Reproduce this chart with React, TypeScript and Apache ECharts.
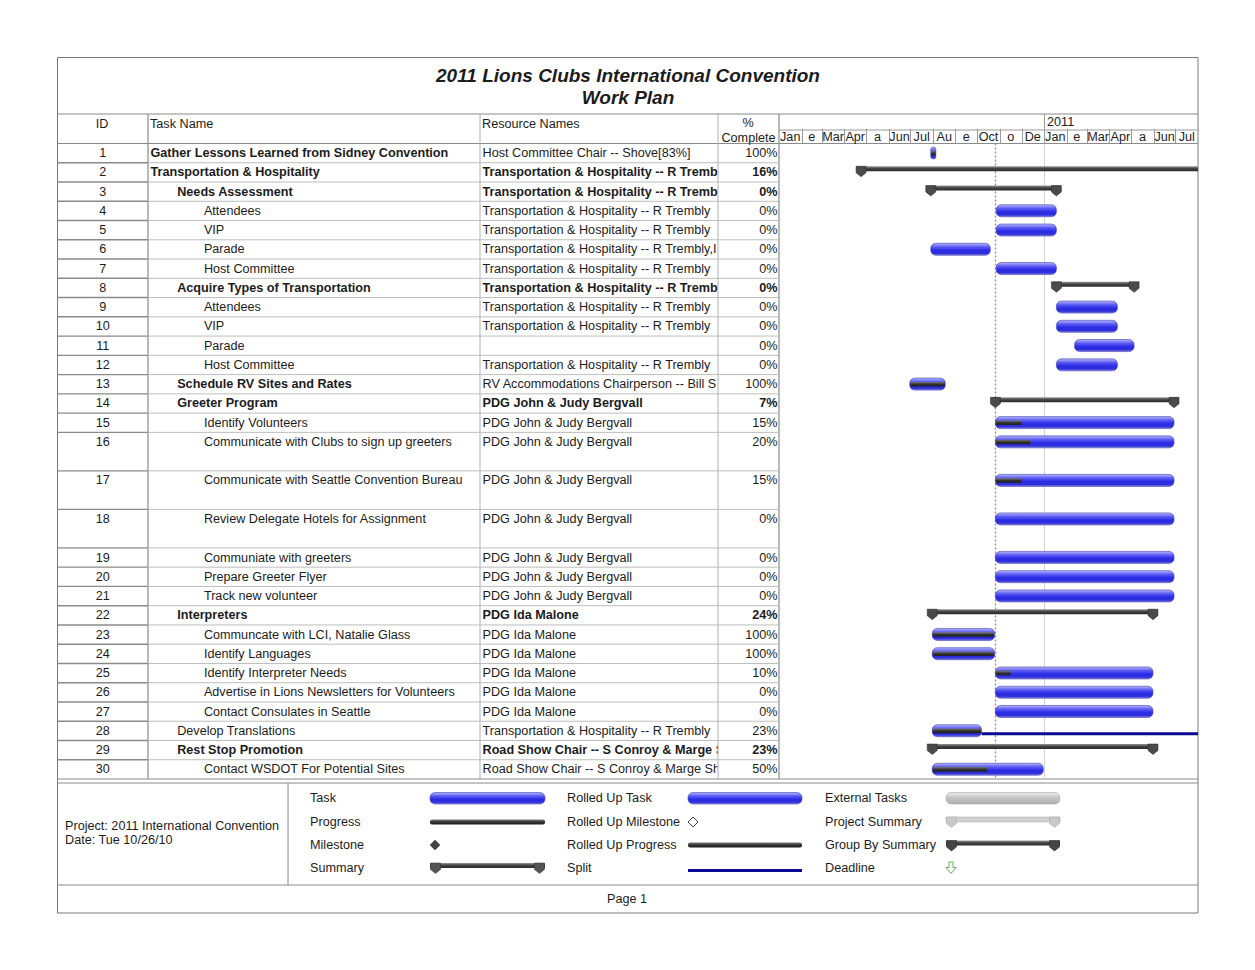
import React, { useEffect, useRef } from 'react';
import * as echarts from 'echarts';

// ---------------- data ----------------
const taskNames = [
  'Gather Lessons Learned from Sidney Convention',
  'Transportation & Hospitality',
  'Needs Assessment',
  'Attendees',
  'VIP',
  'Parade',
  'Host Committee',
  'Acquire Types of Transportation',
  'Attendees',
  'VIP',
  'Parade',
  'Host Committee',
  'Schedule RV Sites and Rates',
  'Greeter Program',
  'Identify Volunteers',
  'Communicate with Clubs to sign up greeters',
  'Communicate with Seattle Convention Bureau',
  'Review Delegate Hotels for Assignment',
  'Communiate with greeters',
  'Prepare Greeter Flyer',
  'Track new volunteer',
  'Interpreters',
  'Communcate with LCI, Natalie Glass',
  'Identify Languages',
  'Identify Interpreter Needs',
  'Advertise in Lions Newsletters for Volunteers',
  'Contact Consulates in Seattle',
  'Develop Translations',
  'Rest Stop Promotion',
  'Contact WSDOT For Potential Sites',
];
const outlineLevels = [0, 0, 1, 2, 2, 2, 2, 1, 2, 2, 2, 2, 1, 1, 2, 2, 2, 2, 2, 2, 2, 1, 2, 2, 2, 2, 2, 1, 1, 2];
const boldNameIds = [1, 2, 3, 8, 13, 14, 22, 29];
const summaryIds = [2, 3, 8, 14, 22, 29];
const tallRowIds = [16, 17, 18];
const resourceNames = [
  'Host Committee Chair -- Shove[83%]',
  'Transportation & Hospitality -- R Trembly',
  'Transportation & Hospitality -- R Trembly',
  'Transportation & Hospitality -- R Trembly',
  'Transportation & Hospitality -- R Trembly',
  'Transportation & Hospitality -- R Trembly,I',
  'Transportation & Hospitality -- R Trembly',
  'Transportation & Hospitality -- R Trembly',
  'Transportation & Hospitality -- R Trembly',
  'Transportation & Hospitality -- R Trembly',
  '',
  'Transportation & Hospitality -- R Trembly',
  'RV Accommodations Chairperson -- Bill S',
  'PDG John & Judy Bergvall',
  'PDG John & Judy Bergvall',
  'PDG John & Judy Bergvall',
  'PDG John & Judy Bergvall',
  'PDG John & Judy Bergvall',
  'PDG John & Judy Bergvall',
  'PDG John & Judy Bergvall',
  'PDG John & Judy Bergvall',
  'PDG Ida Malone',
  'PDG Ida Malone',
  'PDG Ida Malone',
  'PDG Ida Malone',
  'PDG Ida Malone',
  'PDG Ida Malone',
  'Transportation & Hospitality -- R Trembly',
  'Road Show Chair -- S Conroy & Marge Sh',
  'Road Show Chair -- S Conroy & Marge Sh',
];
const percentComplete = [100, 16, 0, 0, 0, 0, 0, 0, 0, 0, 0, 0, 100, 7, 15, 20, 15, 0, 0, 0, 0, 24, 100, 100, 10, 0, 0, 23, 23, 50];
const startDates = [
  '2010-07-29', '2010-04-24', '2010-07-29', '2010-10-27', '2010-10-27', '2010-07-29', '2010-10-27', '2011-01-18',
  '2011-01-18', '2011-01-18', '2011-02-12', '2011-01-18', '2010-06-30', '2010-10-26', '2010-10-26', '2010-10-26',
  '2010-10-26', '2010-10-26', '2010-10-26', '2010-10-26', '2010-10-26', '2010-07-31', '2010-07-31', '2010-07-31',
  '2010-10-26', '2010-10-26', '2010-10-26', '2010-07-31', '2010-07-31', '2010-07-31',
];
const finishDates = [
  '2010-08-05', '2011-10-15', '2011-01-18', '2011-01-18', '2011-01-18', '2010-10-19', '2011-01-18', '2011-05-05',
  '2011-04-12', '2011-04-12', '2011-05-05', '2011-04-12', '2010-08-18', '2011-06-29', '2011-06-29', '2011-06-29',
  '2011-06-29', '2011-06-29', '2011-06-29', '2011-06-29', '2011-06-29', '2011-05-31', '2010-10-25', '2010-10-25',
  '2011-05-31', '2011-05-31', '2011-05-31', '2010-10-07', '2011-05-31', '2010-12-31',
];
// task 28 is split: first segment fully worked, then the split continues past the timescale
const splitTaskId = 28;
const splitUntil = '2011-10-15';

const statusDate = '2010-10-26';
const yearDivider = '2011-01-01';
const timescaleStart = '2010-01-01';
const timescaleEnd = '2011-08-01';
const monthStarts = [
  '2010-01-01', '2010-02-01', '2010-03-01', '2010-04-01', '2010-05-01', '2010-06-01', '2010-07-01',
  '2010-08-01', '2010-09-01', '2010-10-01', '2010-11-01', '2010-12-01', '2011-01-01', '2011-02-01',
  '2011-03-01', '2011-04-01', '2011-05-01', '2011-06-01', '2011-07-01', '2011-08-01',
];
const monthLabels = ['Jan', 'e', 'Mar', 'Apr', 'a', 'Jun', 'Jul', 'Au', 'e', 'Oct', 'o', 'De', 'Jan', 'e', 'Mar', 'Apr', 'a', 'Jun', 'Jul'];
const yearStarts = ['2010-01-01', '2011-01-01', '2011-08-01'];
const yearLabels = ['', '2011'];

const titleLines = ['2011 Lions Clubs International Convention', 'Work Plan'];
const projectInfo = ['Project: 2011 International Convention', 'Date: Tue 10/26/10'];
const legendCol1 = ['Task', 'Progress', 'Milestone', 'Summary'];
const legendCol2 = ['Rolled Up Task', 'Rolled Up Milestone', 'Rolled Up Progress', 'Split'];
const legendCol3 = ['External Tasks', 'Project Summary', 'Group By Summary', 'Deadline'];

// ---------------- helpers ----------------
function ts(s: string) {
  const [y, m, d] = s.split('-').map(Number);
  return Date.UTC(y, m - 1, d);
}
const rowSpans = taskNames.map((_, i) => (tallRowIds.includes(i + 1) ? 2 : 1));
const rowStarts: number[] = [];
let acc = 0;
rowSpans.forEach((s) => {
  rowStarts.push(acc);
  acc += s;
});
const totalUnits = acc;

const FONT = '"Liberation Sans", Arial, Helvetica, sans-serif';
const TXT = '#1c1c1c';
const FS = 12.65;
const f = (size: number, w = 'normal', st = 'normal') => `${st} ${w} ${size}px ${FONT}`;

const LG = echarts.graphic.LinearGradient;
const taskFill = () =>
  new LG(0, 0, 0, 1, [
    { offset: 0, color: '#b8b8fd' },
    { offset: 0.3, color: '#5c5cf3' },
    { offset: 0.6, color: '#2a2ae6' },
    { offset: 0.85, color: '#3030d8' },
    { offset: 1, color: '#8a8aec' },
  ]);
const progFill = () =>
  new LG(0, 0, 0, 1, [
    { offset: 0, color: '#7a7a7a' },
    { offset: 0.5, color: '#333' },
    { offset: 1, color: '#1e1e1e' },
  ]);
const sumFill = () =>
  new LG(0, 0, 0, 1, [
    { offset: 0, color: '#9a9a9a' },
    { offset: 0.45, color: '#444' },
    { offset: 1, color: '#2a2a2a' },
  ]);
const capPts = (cx: number, top: number, hw = 5) => [
  [cx - hw, top],
  [cx + hw, top],
  [cx + hw, top + 6.5],
  [cx, top + 10.5],
  [cx - hw, top + 6.5],
];

function setAlign(style: any, align: string, valign = 'middle') {
  style.align = align;
  style.textAlign = align;
  style.verticalAlign = valign;
  style.textVerticalAlign = valign;
  return style;
}

function txt(text: string, x: number, y: number, font: string, align = 'left', extra: any = {}) {
  return {
    type: 'text',
    x,
    y,
    silent: true,
    style: setAlign({ text, font, fill: TXT, ...extra }, align),
  };
}
function hline(x1: number, x2: number, y: number, stroke = '#9a9a9a', lw = 1) {
  return { type: 'line', silent: true, shape: { x1, y1: y, x2, y2: y }, style: { stroke, lineWidth: lw } };
}
function vline(x: number, y1: number, y2: number, stroke = '#9a9a9a', lw = 1) {
  return { type: 'line', silent: true, shape: { x1: x, y1, x2: x, y2 }, style: { stroke, lineWidth: lw } };
}

// ---------------- layout constants ----------------
const L = 57.5, R = 1198, T = 57.5, B = 913;
const TITLE_BOTTOM = 114;
const HEAD_BOTTOM = 143.5;
const TABLE_BOTTOM = 779;
const COL_ID = 148, COL_RES = 480, COL_PCT = 718, COL_GANTT = 779;

function buildOption() {
  const g: any[] = [];
  // frame
  g.push({ type: 'rect', silent: true, shape: { x: L, y: T, width: R - L, height: B - T }, style: { fill: 'none', stroke: '#7a7a7a', lineWidth: 1 } });
  g.push(txt(titleLines[0], 628, 75, f(19, 'bold', 'italic'), 'center'));
  g.push(txt(titleLines[1], 628, 97, f(19, 'bold', 'italic'), 'center'));
  g.push(hline(L, R, TITLE_BOTTOM, '#8a8a8a'));
  g.push(hline(L, R, HEAD_BOTTOM, '#8a8a8a'));
  g.push(hline(COL_GANTT, R, 130, '#9a9a9a'));
  g.push(vline(COL_ID, TITLE_BOTTOM, TABLE_BOTTOM, '#8a8a8a', 1.2));
  g.push(vline(COL_RES, TITLE_BOTTOM, TABLE_BOTTOM, '#b0b0b0'));
  g.push(vline(COL_PCT, TITLE_BOTTOM, TABLE_BOTTOM, '#b0b0b0'));
  g.push(vline(COL_GANTT, TITLE_BOTTOM, TABLE_BOTTOM, '#8a8a8a', 1.2));
  // table header
  g.push(txt('ID', 102, 124, f(FS), 'center'));
  g.push(txt('Task Name', 150, 124, f(FS)));
  g.push(txt('Resource Names', 482, 124, f(FS)));
  g.push(txt('%', 748, 123, f(FS), 'center'));
  g.push(txt('Complete', 748.5, 138, f(FS), 'center'));
  // bottom boxes
  g.push(hline(L, R, TABLE_BOTTOM, '#8a8a8a'));
  g.push(hline(L, R, 783, '#8a8a8a'));
  g.push(vline(288, 783, 885, '#8a8a8a'));
  g.push(hline(L, R, 885, '#8a8a8a'));
  g.push(txt(projectInfo[0], 65, 826, f(FS)));
  g.push(txt(projectInfo[1], 65, 840, f(FS)));
  g.push(txt('Page 1', 627, 899, f(FS), 'center'));

  const ly = [798, 822, 845, 868];
  legendCol1.forEach((t, i) => g.push(txt(t, 310, ly[i], f(FS))));
  legendCol2.forEach((t, i) => g.push(txt(t, 567, ly[i], f(FS))));
  legendCol3.forEach((t, i) => g.push(txt(t, 825, ly[i], f(FS))));

  // col1 symbols
  g.push({ type: 'rect', silent: true, shape: { x: 430, y: 792.5, width: 115, height: 11.5, r: 5 }, style: { fill: taskFill(), stroke: '#4040b0', lineWidth: 0.6 } });
  g.push({ type: 'rect', silent: true, shape: { x: 430, y: 819.5, width: 115, height: 5, r: 2 }, style: { fill: progFill() } });
  g.push({ type: 'polygon', silent: true, shape: { points: [[435, 840], [440, 845], [435, 850], [430, 845]] }, style: { fill: '#444', stroke: '#333', lineWidth: 0.5 } });
  g.push({ type: 'rect', silent: true, shape: { x: 430, y: 863, width: 115, height: 5 }, style: { fill: sumFill() } });
  g.push({ type: 'polygon', silent: true, shape: { points: capPts(435.5, 863) }, style: { fill: '#555', stroke: '#333', lineWidth: 0.5 } });
  g.push({ type: 'polygon', silent: true, shape: { points: capPts(539.5, 863) }, style: { fill: '#555', stroke: '#333', lineWidth: 0.5 } });
  // col2 symbols
  g.push({ type: 'rect', silent: true, shape: { x: 688, y: 792.5, width: 114, height: 11.5, r: 5 }, style: { fill: taskFill(), stroke: '#4040b0', lineWidth: 0.6 } });
  g.push({ type: 'polygon', silent: true, shape: { points: [[693, 817], [698, 822], [693, 827], [688, 822]] }, style: { fill: '#fff', stroke: '#444', lineWidth: 1 } });
  g.push({ type: 'rect', silent: true, shape: { x: 688, y: 842.5, width: 114, height: 5, r: 2 }, style: { fill: progFill() } });
  g.push({ type: 'rect', silent: true, shape: { x: 688, y: 869, width: 114, height: 3 }, style: { fill: '#0a0a96' } });
  // col3 symbols
  g.push({
    type: 'rect', silent: true, shape: { x: 946, y: 792.5, width: 114, height: 11.5, r: 5 },
    style: { fill: new LG(0, 0, 0, 1, [{ offset: 0, color: '#ececec' }, { offset: 0.5, color: '#c2c2c2' }, { offset: 1, color: '#b0b0b0' }]), stroke: '#a8a8a8', lineWidth: 0.6 },
  });
  g.push({ type: 'rect', silent: true, shape: { x: 946, y: 817, width: 114, height: 5 }, style: { fill: '#d0d0d0', stroke: '#aaa', lineWidth: 0.5 } });
  g.push({ type: 'polygon', silent: true, shape: { points: capPts(951.5, 817) }, style: { fill: '#c8c8c8', stroke: '#aaa', lineWidth: 0.5 } });
  g.push({ type: 'polygon', silent: true, shape: { points: capPts(1054.5, 817) }, style: { fill: '#c8c8c8', stroke: '#aaa', lineWidth: 0.5 } });
  g.push({ type: 'rect', silent: true, shape: { x: 946, y: 840.5, width: 114, height: 5 }, style: { fill: sumFill() } });
  g.push({ type: 'polygon', silent: true, shape: { points: capPts(951.5, 840.5) }, style: { fill: '#444', stroke: '#222', lineWidth: 0.5 } });
  g.push({ type: 'polygon', silent: true, shape: { points: capPts(1054.5, 840.5) }, style: { fill: '#444', stroke: '#222', lineWidth: 0.5 } });
  g.push({
    type: 'polygon', silent: true,
    shape: { points: [[949, 862], [953, 862], [953, 867.5], [956, 867.5], [951, 873.5], [946, 867.5], [949, 867.5]] },
    style: { fill: '#fff', stroke: '#6aaa5a', lineWidth: 1 },
  });

  const cols = { name: 93, res: 425, pctRight: 720 };

  const tableSeries = {
    type: 'custom',
    xAxisIndex: 0,
    yAxisIndex: 0,
    silent: true,
    data: taskNames.map((_, i) => [0, rowStarts[i], rowSpans[i]]),
    encode: { x: 0, y: 1 },
    renderItem: (params: any, api: any) => {
      const i = params.dataIndex;
      const cs = params.coordSys;
      const x0 = cs.x;
      const top = api.coord([0, rowStarts[i]])[1];
      const bottom = api.coord([0, rowStarts[i] + rowSpans[i]])[1];
      const yT = top + 9.6;
      const id = i + 1;
      const isSum = summaryIds.includes(id);
      const nameBold = boldNameIds.includes(id);
      const children: any[] = [];
      if (i < taskNames.length - 1) {
        children.push({ type: 'line', shape: { x1: x0, y1: bottom, x2: COL_ID, y2: bottom }, style: { stroke: '#8a8a8a', lineWidth: 1.4 } });
        children.push({ type: 'line', shape: { x1: COL_ID, y1: bottom, x2: COL_GANTT, y2: bottom }, style: { stroke: '#bdbdbd', lineWidth: 1 } });
      }
      children.push({ type: 'text', style: setAlign({ text: String(id), x: (x0 + COL_ID) / 2, y: yT, font: f(FS), fill: TXT }, 'center') });
      children.push({
        type: 'text',
        style: setAlign({ text: taskNames[i], x: x0 + cols.name + outlineLevels[i] * 26.7, y: yT, font: f(FS, nameBold ? 'bold' : 'normal'), fill: TXT }, 'left'),
      });
      if (resourceNames[i]) {
        children.push({
          type: 'group',
          clipPath: { type: 'rect', shape: { x: COL_RES + 1, y: top, width: COL_PCT - COL_RES - 1.5, height: bottom - top } },
          children: [
            {
              type: 'text',
              style: setAlign({
                text: resourceNames[i], x: x0 + cols.res, y: yT, font: f(FS, isSum ? 'bold' : 'normal'), fill: TXT,
              }, 'left'),
            },
          ],
        });
      }
      children.push({
        type: 'text',
        style: setAlign({ text: percentComplete[i] + '%', x: x0 + cols.pctRight, y: yT, font: f(FS, isSum ? 'bold' : 'normal'), fill: TXT }, 'right'),
      });
      return { type: 'group', children };
    },
  };

  const guideSeries = {
    type: 'custom',
    xAxisIndex: 1,
    yAxisIndex: 1,
    silent: true,
    data: [[ts(yearDivider), 0], [ts(statusDate), 0]],
    encode: { x: 0, y: 1 },
    renderItem: (params: any, api: any) => {
      const cs = params.coordSys;
      const x = Math.round(api.coord([api.value(0), 0])[0]) + 0.5;
      const isStatus = params.dataIndex === 1;
      return {
        type: 'line',
        shape: { x1: x, y1: cs.y, x2: x, y2: cs.y + cs.height },
        style: isStatus ? { stroke: '#8c8c8c', lineWidth: 1.3, lineDash: [2, 2] } : { stroke: '#d2d2d2', lineWidth: 1 },
      };
    },
  };

  const barSeries = {
    type: 'custom',
    xAxisIndex: 1,
    yAxisIndex: 1,
    silent: true,
    data: taskNames.map((_, i) => [ts(startDates[i]), ts(finishDates[i]), rowStarts[i]]),
    encode: { x: [0, 1], y: 2 },
    renderItem: (params: any, api: any) => {
      const i = params.dataIndex;
      const id = i + 1;
      const cs = params.coordSys;
      const right = cs.x + cs.width;
      const s = api.value(0), e = api.value(1);
      const p0 = api.coord([s, api.value(2)]);
      const p1 = api.coord([e, api.value(2)]);
      const top = p0[1];
      const x0 = p0[0], x1 = p1[0];
      const children: any[] = [];
      if (summaryIds.includes(id)) {
        const bx0 = x0 - 4, bx1 = Math.min(right, x1 + 4);
        children.push({ type: 'rect', shape: { x: bx0, y: top + 3.5, width: bx1 - bx0, height: 5 }, style: { fill: sumFill() } });
        children.push({ type: 'polygon', shape: { points: capPts(x0, top + 3.5) }, style: { fill: '#4a4a4a', stroke: '#2a2a2a', lineWidth: 0.5 } });
        if (x1 <= right) children.push({ type: 'polygon', shape: { points: capPts(x1, top + 3.5) }, style: { fill: '#4a4a4a', stroke: '#2a2a2a', lineWidth: 0.5 } });
      } else {
        const xr = Math.min(x1, right);
        const w = Math.max(4, xr - x0);
        const bx = xr - x0 < 4 ? (x0 + xr) / 2 - 2 : x0;
        children.push({
          type: 'rect',
          shape: { x: bx, y: top + 3.5, width: w, height: 12, r: Math.min(5, w / 2) },
          style: { fill: taskFill(), stroke: '#4040b0', lineWidth: 0.6 },
        });
        const isSplit = id === splitTaskId;
        const progEnd = isSplit ? e : s + (e - s) * percentComplete[i] / 100;
        if (percentComplete[i] > 0) {
          const px = api.coord([progEnd, 0])[0];
          const pw = Math.max(2, Math.min(px, right) - bx - 1);
          children.push({ type: 'rect', shape: { x: bx + 0.5, y: top + 7.3, width: pw, height: 4.6, r: 1 }, style: { fill: progFill() } });
        }
        if (isSplit) {
          const sx = api.coord([ts(splitUntil), 0])[0];
          children.push({ type: 'rect', shape: { x: xr, y: top + 11, width: Math.min(sx, right) - xr, height: 3 }, style: { fill: '#0a0a96' } });
        }
      }
      return { type: 'group', children };
    },
  };

  const monthSeries = {
    type: 'custom',
    xAxisIndex: 2,
    yAxisIndex: 2,
    silent: true,
    data: monthLabels.map((_, i) => [ts(monthStarts[i]), ts(monthStarts[i + 1]), 1]),
    encode: { x: [0, 1], y: 2 },
    renderItem: (params: any, api: any) => {
      const i = params.dataIndex;
      const cs = params.coordSys;
      const a = api.coord([api.value(0), 1]);
      const b = api.coord([api.value(1), 2]);
      const children: any[] = [];
      if (b[0] < cs.x + cs.width - 1) {
        const x = Math.round(b[0]) + 0.5;
        children.push({ type: 'line', shape: { x1: x, y1: a[1], x2: x, y2: b[1] }, style: { stroke: '#9a9a9a', lineWidth: 1 } });
      }
      children.push({ type: 'text', style: setAlign({ text: monthLabels[i], x: (a[0] + b[0]) / 2, y: (a[1] + b[1]) / 2 + 1, font: f(FS), fill: TXT }, 'center') });
      return { type: 'group', children };
    },
  };

  const yearSeries = {
    type: 'custom',
    xAxisIndex: 2,
    yAxisIndex: 2,
    silent: true,
    data: yearLabels.map((_, i) => [ts(yearStarts[i]), ts(yearStarts[i + 1]), 0]),
    encode: { x: [0, 1], y: 2 },
    renderItem: (params: any, api: any) => {
      const i = params.dataIndex;
      const cs = params.coordSys;
      const a = api.coord([api.value(0), 0]);
      const b = api.coord([api.value(1), 1]);
      const children: any[] = [];
      if (a[0] > cs.x + 1) {
        const x = Math.round(a[0]) + 0.5;
        children.push({ type: 'line', shape: { x1: x, y1: a[1], x2: x, y2: b[1] }, style: { stroke: '#9a9a9a', lineWidth: 1 } });
      }
      if (yearLabels[i]) children.push({ type: 'text', style: setAlign({ text: yearLabels[i], x: a[0] + 3, y: (a[1] + b[1]) / 2 + 1, font: f(FS), fill: TXT }, 'left') });
      return { type: 'group', children };
    },
  };

  const tMin = ts(timescaleStart), tMax = ts(timescaleEnd);
  return {
    animation: false,
    backgroundColor: '#ffffff',
    grid: [
      { left: L, top: HEAD_BOTTOM, width: COL_GANTT - L, height: TABLE_BOTTOM - HEAD_BOTTOM },
      { left: COL_GANTT, top: HEAD_BOTTOM, width: R - COL_GANTT, height: TABLE_BOTTOM - HEAD_BOTTOM },
      { left: COL_GANTT, top: TITLE_BOTTOM, width: R - COL_GANTT, height: HEAD_BOTTOM - TITLE_BOTTOM },
    ],
    xAxis: [
      { gridIndex: 0, type: 'value', min: 0, max: COL_GANTT - L, show: false },
      { gridIndex: 1, type: 'time', min: tMin, max: tMax, show: false },
      { gridIndex: 2, type: 'time', min: tMin, max: tMax, show: false },
    ],
    yAxis: [
      { gridIndex: 0, type: 'value', min: 0, max: totalUnits, inverse: true, show: false },
      { gridIndex: 1, type: 'value', min: 0, max: totalUnits, inverse: true, show: false },
      { gridIndex: 2, type: 'value', min: 0, max: 2, inverse: true, show: false },
    ],
    graphic: { elements: g },
    series: [tableSeries, guideSeries, barSeries, monthSeries, yearSeries],
  };
}

export default function App() {
  const ref = useRef<HTMLDivElement>(null);
  useEffect(() => {
    document.body.style.margin = '0';
    const chart = echarts.init(ref.current!, undefined, { renderer: 'svg' });
    chart.setOption(buildOption() as any);
    return () => chart.dispose();
  }, []);
  return <div ref={ref} style={{ width: 1255, height: 970, position: 'absolute', left: 0, top: 0, background: '#fff' }} />;
}
